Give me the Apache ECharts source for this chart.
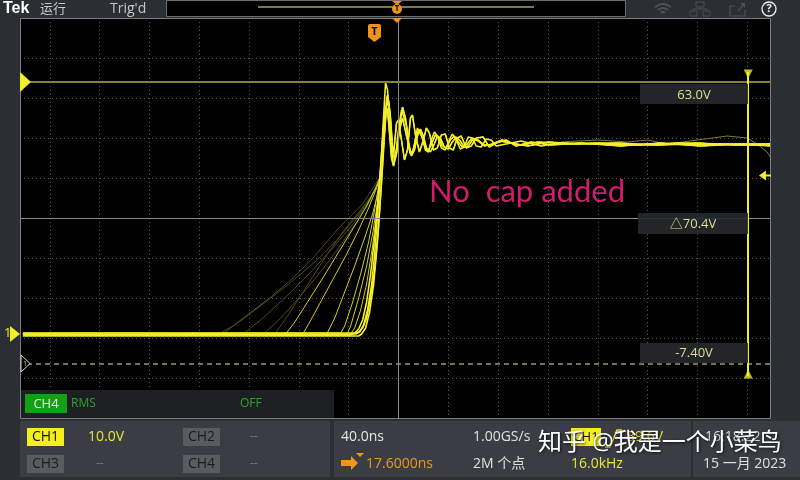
<!DOCTYPE html>
<html><head><meta charset="utf-8">
<script src="https://cdn.jsdelivr.net/npm/echarts@6/dist/echarts.min.js"></script>
<style>html,body{margin:0;padding:0;background:#2b2e32}#c{width:800px;height:480px}</style>
</head><body><div id="c"></div><script>
// ---- data: time in ns (relative to trigger), voltage in V ----
const riseA = [[-188.5,0],[-148.5,-0.25],[-98.5,0],[-48.5,-0.25],[-21.5,0],[-19.5,0.5],[-17.5,2.25],[-15.5,6],[-13.5,12.25],[-12,19.75],[-10.5,29.75],[-9,41]];
const tailA = [[-8,49.75],[-7,58.5],[-6.5,62.75],[-5.5,61],[-4.5,53.5],[-3.5,46],[-2.5,42.25],[-1.5,44],[0,51],[1.5,56],[2.5,56.5],[4,52.25],[5.5,46],[6.5,44.75],[8,47.25],[9.5,51.5],[10.5,52],[12,49],[13.5,46],[15,45.5],[16.5,48.5],[18,50.5],[19.5,49.5],[21.5,46.5],[23.5,46],[25.5,48.5],[27,50],[29,48.5],[31,46.25],[33,46.75],[35,49.25],[37,49],[39,47],[41.5,46.75],[44,48.75],[46.5,48.5],[49,47],[54,47.5],[61.5,48.25],[71.5,47],[81.5,47.75],[101.5,47.5],[126.5,47.25],[151.5,47.5],[171.5,47.25],[187,47.25]];
const riseB = [[-188.5,-0.5],[-60,-0.5],[-20,-0.5],[-18.5,0],[-16.5,1.5],[-14.5,5.5],[-12.5,12.25],[-10.5,23.5],[-8.5,38.5]];
const tailB = [[-7,51],[-6,58.5],[-5.5,59.75],[-4.5,56],[-3.5,48.5],[-2.5,44.75],[-1,52.75],[0,53.5],[1.5,48.5],[3,43.5],[4.5,46],[6,54],[7,54.75],[8.5,49.75],[10.5,45.5],[12.5,48.5],[14,51.5],[15.5,50.25],[17.5,46],[19.5,46.5],[21.5,49.75],[23.5,50],[25.5,46.5],[27.5,46],[29.5,49],[31.5,49.5],[34,46.5],[36.5,47],[39,49],[42.5,49.25],[45.5,46.75],[49,47.75],[54,48.5],[59,47],[66.5,48],[76.5,47.25],[91.5,47.75],[111.5,47],[131.5,47.75],[151.5,47],[171.5,47.5],[187,47]];
const riseC = [[-188.5,0.25],[-100,0.25],[-22,0.25],[-20,0.5],[-18,1.5],[-16,4],[-14,9],[-12,16],[-10,27],[-8.5,38]];
const tailC = [[-7,50],[-6,57],[-5,58.5],[-4,54],[-3,47],[-2,43.5],[-1,45],[0.5,51],[2,54],[3,53.5],[4.5,48.5],[6,45],[7.5,46],[9,50],[10.5,51],[12,49],[13.5,46.5],[15,45.75],[17,48],[18.5,49.75],[20,49.25],[22,47],[24,46.5],[26,48.5],[28,49.5],[30,48],[32,46.75],[34.5,47.5],[37,49],[40,48.25],[43,47],[47,47.5],[52,48.5],[58,47.5],[65,47],[75,48],[90,47.5],[110,47.75],[130,47.25],[150,47.75],[170,47.25],[187,47.5]];
const riseD = [[-188.5,-0.25],[-80,-0.25],[-24,-0.25],[-22,0.25],[-20,1.25],[-18,3.5],[-16,8],[-14,15],[-12,24],[-10,35],[-8.5,45]];
const tailD = [[-7.5,52],[-6.5,57],[-5.5,56],[-4.5,50],[-3.5,44],[-2.5,42],[-1,46],[0.5,52],[2,56.75],[3.5,54],[5,48],[6.5,44.5],[8,46],[9.5,49.5],[11,51.25],[12.5,49.5],[14,46.5],[16,45.5],[18,47.5],[19.5,49.5],[21,49],[23,46.75],[25,46.25],[27,48],[29,49.25],[31,48.25],[33,46.75],[35,47],[37.5,48.75],[40,48.5],[43,47.25],[47,47.25],[51,48.25],[56,47.75],[62,47.25],[70,48],[85,47.5],[100,47.75],[120,47.25],[140,47.75],[160,47.5],[187,47.5]];
// slower edges (persistence)
const riseE = [[-188.5,0],[-24,0],[-22,1.5],[-19,6],[-16,12.5],[-13,22],[-11,30],[-9.5,38]];
const riseF = [[-188.5,-0.25],[-26,-0.25],[-24,2],[-20,9],[-16,17],[-13,25],[-10.5,33],[-9,40]];
const riseG = [[-188.5,0.25],[-29,0.25],[-27,2],[-23,8],[-19,15],[-15,23],[-12,31],[-9.5,38.5]];
const riseH = [[-188.5,0],[-48,0],[-44,3.5],[-38,9],[-32,14.5],[-26,20],[-20,26],[-15,31.5],[-11,36.5],[-9,39.5]];
const riseI = [[-188.5,-0.25],[-57,-0.25],[-52,3],[-45,8.5],[-38,14],[-30,20.5],[-22,27],[-16,32],[-11,37],[-9,39.5]];
const riseJ = [[-188.5,0],[-36,0],[-32,4],[-27,10.5],[-22,17],[-17,24],[-13,30],[-10,36],[-8.5,41]];
// faint edges
const riseK = [[-90,0],[-80,3],[-68,7.5],[-55,12.5],[-42,18],[-30,24],[-20,30],[-13,35],[-9,39.5]];
const riseL = [[-78,0],[-68,4],[-56,9.5],[-44,15.5],[-33,21.5],[-22,28],[-14,34],[-9,39.5]];
const riseM = [[-68,0],[-60,3.5],[-50,9],[-40,15],[-30,21.5],[-21,28],[-14,33.5],[-9,39.5]];
const riseN = [[-88,0],[-78,4],[-66,8.5],[-54,13.5],[-42,19.5],[-30,26.5],[-18,32.5],[-9,39.5]];
const riseO = [[-62,0],[-55,5],[-46,12],[-37,19],[-28,25.5],[-19,31],[-12,35.5],[-9,39.5]];
const ghost = [[81.5,48],[100,48.5],[115,48],[125,48.5],[135,47.5],[150,48.5],[165,49.5],[175,49],[180,47.5],[185,45.5],[187,44]];
// cursors / levels
const cursorHigh = 63.0;
const cursorLow = -7.4;
const cursorTime = 175.5;
const cursorSpan = [65.5, -10.5];
const centerTime = 0;
const centerVolt = 29;
const triggerLevel = 39.6;

const FONT = "'Open Sans','Noto Sans CJK SC',sans-serif";
function lineS(data, color, width, z) {
  return {type:'line', data, showSymbol:false, silent:true, animation:false, z,
    lineStyle:{color, width}, xAxisIndex:0, yAxisIndex:0};
}
const series = [];
series.push({type:'line', data:[], z:1, silent:true, animation:false,
  markLine:{silent:true, symbol:'none', label:{show:false}, animation:false,
    lineStyle:{color:'#8a8a8a', width:1, type:'solid'},
    data:[{xAxis:centerTime},{yAxis:centerVolt}]}});
[riseK,riseL,riseM,riseN,riseO].forEach(d=>series.push(lineS(d,'#4e4c1a',1,2)));
series.push(lineS(ghost,'#77775a',1,2));
[riseE.concat(tailD),riseF.concat(tailC),riseG.concat(tailB),riseH.concat(tailC),riseI.concat(tailB),riseJ.concat(tailD)]
  .forEach(d=>series.push(lineS(d,'#d2cd2a',1,3)));
[riseA.concat(tailA),riseB.concat(tailB),riseC.concat(tailC),riseD.concat(tailD)]
  .forEach(d=>series.push(lineS(d,'#f4ef2c',1.6,4)));
series.push({type:'line', data:[], z:5, silent:true, animation:false,
  markLine:{silent:true, symbol:'none', label:{show:false}, animation:false,
    data:[
      {yAxis:cursorHigh, lineStyle:{color:'#858240', width:2, type:'solid'}},
      {yAxis:cursorLow, lineStyle:{color:'#9a9870', width:1.5, type:[5,4]}},
      [{coord:[cursorTime,cursorSpan[0]], lineStyle:{color:'#f2ee28', width:2, type:'solid'}},{coord:[cursorTime,cursorSpan[1]]}]
    ]}});
series.push({type:'scatter', z:6, silent:true, animation:false, symbol:'triangle', symbolSize:[9,9],
  itemStyle:{color:'#f2ee28'},
  data:[{value:[cursorTime,cursorSpan[0]-0.5], symbolRotate:180},{value:[cursorTime,cursorSpan[1]+0.5], symbolRotate:0}]});

function T(x,y,text,fill,size,o={}) {
  return {type:'text', x, y, z:o.z||120, style:Object.assign({text, fill,
    font:(o.weight||'normal')+' '+size+'px '+(o.family||FONT),
    textAlign:o.align||'left', textVerticalAlign:'middle'}, o.extra||{})};
}
function R(x,y,w,h,fill,o={}) {
  return {type:'rect', z:o.z||100, shape:{x,y,width:w,height:h,r:o.r||0},
    style:{fill, stroke:o.stroke||null, lineWidth:o.lw||1}};
}
function P(points,fill,o={}) {
  return {type:'polygon', z:o.z||115, shape:{points}, style:{fill, stroke:o.stroke||null, lineWidth:o.lw||1}};
}
function PL(points,stroke,lw,z) {
  return {type:'polyline', z:z||115, shape:{points}, style:{stroke, lineWidth:lw, fill:null}};
}
const PANEL = '#2b2e32', BOX = '#3a3e44';
const graphic = [
  // side / top / bottom panels
  R(0,0,800,18,PANEL), R(0,0,20,420,PANEL), R(771,0,29,420,PANEL), R(0,418,800,62,PANEL),
  // plot frame
  {type:'rect', z:101, shape:{x:20.5,y:18.5,width:750,height:400}, style:{fill:null, stroke:'#7c7c7c', lineWidth:1}},
  // top bar
  T(3,9,'Tek','#ffffff',16,{weight:'bold', family:"'Liberation Sans',sans-serif"}),
  T(40,9,'运行','#c8c8c8',13),
  T(110,9,"Trig'd",'#c8c8c8',14),
  R(166.5,0.5,459,16,'#000',{stroke:'#6c6c6c'}),
  PL([[258,7],[534,7]],'#eeeea8',1.2,105),
  P([[392,1],[402,1],[397,5]],'#f0921c'),
  {type:'circle', z:115, shape:{cx:397,cy:9,r:5}, style:{fill:'#f0921c'}},
  T(397,9,'T','#000',8,{align:'center', weight:'bold', z:116}),
  // icons
  {type:'arc', z:110, shape:{cx:663,cy:15,r:3,startAngle:-Math.PI*0.75,endAngle:-Math.PI*0.25}, style:{stroke:'#4d5156',lineWidth:2,fill:null}},
  {type:'arc', z:110, shape:{cx:663,cy:15,r:7,startAngle:-Math.PI*0.75,endAngle:-Math.PI*0.25}, style:{stroke:'#4d5156',lineWidth:2,fill:null}},
  {type:'arc', z:110, shape:{cx:663,cy:15,r:11,startAngle:-Math.PI*0.75,endAngle:-Math.PI*0.25}, style:{stroke:'#4d5156',lineWidth:2,fill:null}},
  {type:'rect', z:110, shape:{x:696,y:2,width:8,height:5}, style:{fill:null,stroke:'#4d5156',lineWidth:1}},
  {type:'rect', z:110, shape:{x:690,y:11,width:7,height:5}, style:{fill:null,stroke:'#4d5156',lineWidth:1}},
  {type:'rect', z:110, shape:{x:703,y:11,width:7,height:5}, style:{fill:null,stroke:'#4d5156',lineWidth:1}},
  PL([[700,7],[700,9],[693,9],[693,11]],'#4d5156',1,110),
  PL([[700,9],[707,9],[707,11]],'#4d5156',1,110),
  PL([[735,6],[730,6],[730,16],[745,16],[745,10]],'#4d5156',1.2,110),
  PL([[738,11],[744,4]],'#4d5156',1.2,110),
  P([[740,3],[745,3],[745,8]],'#4d5156',{z:110}),
  {type:'circle', z:110, shape:{cx:769,cy:9,r:7}, style:{fill:null,stroke:'#f0f0f0',lineWidth:1.3}},
  T(769,9,'?','#f0f0f0',11,{align:'center', weight:'bold'}),
  // trigger position markers
  P([[392,18],[402,18],[397,23]],'#f0921c'),
  {type:'rect', z:115, shape:{x:368,y:24,width:13,height:13,r:[2,2,0,0]}, style:{fill:'#f0921c'}},
  P([[368,37],[381,37],[374.5,42]],'#f0921c'),
  T(374.5,32,'T','#000',11,{align:'center', weight:'bold', z:116}),
  // left markers
  P([[20,72],[31,82],[20,92]],'#f2ee28'),
  T(4,333,'1','#f2ee28',13),
  P([[10,326],[20,334],[10,342]],'#f2ee28'),
  P([[21,355],[30,363.5],[21,372]],'#000',{stroke:'#d8d8c0'}),
  T(23,364,'1','#d8d8c0',7),
  // trigger level arrow (right)
  P([[759,175.5],[766,170.5],[766,180.5]],'#f2ee28'),
  R(765,174.5,6,2,'#f2ee28',{z:115}),
  // cursor readouts
  R(640,84,108,20,'rgba(38,42,46,0.9)',{z:104}),
  T(694,95,'63.0V','#dede98',13,{align:'center'}),
  R(638,213,110,21,'rgba(38,42,46,0.9)',{z:104}),
  T(693,224,'△70.4V','#dede98',13,{align:'center'}),
  R(640,343,108,20,'rgba(38,42,46,0.9)',{z:104}),
  T(694,353,'-7.40V','#dede98',13,{align:'center'}),
  // annotation
  T(429,192,'No  cap added','#d21c6e',31,{family:"Lato,'Open Sans',sans-serif", z:112}),
  // CH4 math strip
  R(21,390,313,28,'#1d2023',{z:102}),
  R(25,394,42,19,'#14a014',{z:103}),
  T(46,404,'CH4','#e4f2e4',13,{align:'center'}),
  T(71,404,'RMS','#26a826',12),
  T(240,404,'OFF','#26a826',12),
  // bottom boxes
  R(20,421,310,56,BOX,{z:101}),
  R(334,421,357,56,BOX,{z:101}),
  R(693,421,107,56,BOX,{z:101}),
  R(27,428,37,18,'#f4ef1c',{z:103}),
  T(45.5,437,'CH1','#111',14,{align:'center'}),
  T(88,437,'10.0V','#e8e43a',14),
  R(183,428,37,18,'#585c61',{z:103}),
  T(201.5,437,'CH2','#1c1c1c',14,{align:'center'}),
  T(250,437,'--','#767a80',12),
  R(27,455,37,18,'#585c61',{z:103}),
  T(45.5,464,'CH3','#1c1c1c',14,{align:'center'}),
  T(96,464,'--','#767a80',12),
  R(183,455,37,18,'#585c61',{z:103}),
  T(201.5,464,'CH4','#1c1c1c',14,{align:'center'}),
  T(250,464,'--','#767a80',12),
  T(341,437,'40.0ns','#e6e6e6',14),
  T(473,437,'1.00GS/s','#e0e0e0',14),
  P([[341,460],[351,460],[351,456],[358,463],[351,470],[351,466],[341,466]],'#f0961e'),
  P([[356,453],[364,453],[360,457]],'#f0961e'),
  T(366,464,'17.6000ns','#f0961e',14),
  T(473,464,'2M 个点','#e0e0e0',14),
  R(571,428,30,18,'#f4ef1c',{z:103}),
  T(586,437,'CH1','#111',13,{align:'center'}),
  PL([[605,447],[610,447],[617,430],[622,430]],'#e8e43a',1.5,115),
  T(627,437,'39.6V','#e8e43a',14),
  T(571,464,'16.0kHz','#e8e43a',14),
  T(705,437,'16:18:22','#d8d8d8',14),
  T(703,464,'15 一月 2023','#e0e0e0',14),
  // watermark
  T(538,443,'知乎 @我是一个小菜鸟','#ffffff',24,{z:130, extra:{textShadowColor:'rgba(0,0,0,0.8)', textShadowBlur:3, textShadowOffsetX:1, textShadowOffsetY:1}})
];

const chart = echarts.init(document.getElementById('c'), null, {renderer:'canvas'});
chart.setOption({
  animation:false,
  backgroundColor:PANEL,
  grid:{left:-3, top:18, width:800, height:400, show:true, backgroundColor:'#000', borderWidth:0},
  xAxis:[{type:'value', min:-200, max:200, interval:25,
    axisLine:{show:false}, axisTick:{show:false}, axisLabel:{show:false},
    splitLine:{show:true, lineStyle:{color:'#5c5c5c', width:1, type:[1,3]}}}],
  yAxis:[
    {type:'value', min:-21, max:79, show:false, splitLine:{show:false}},
    {type:'value', min:-5, max:5, interval:1,
      axisLine:{show:false}, axisTick:{show:false}, axisLabel:{show:false},
      splitLine:{show:true, lineStyle:{color:'#5c5c5c', width:1, type:[1,3]}}}
  ],
  series,
  graphic
});
</script></body></html>
